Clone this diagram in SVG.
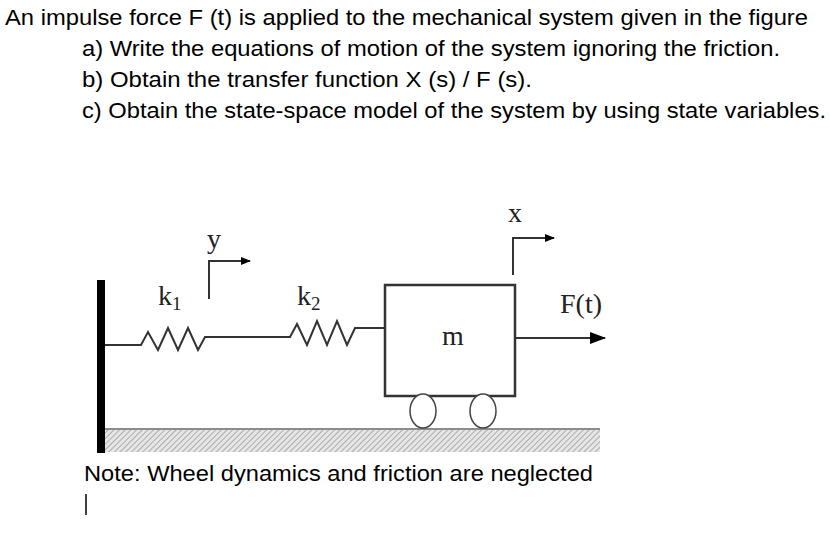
<svg xmlns="http://www.w3.org/2000/svg" width="830" height="551" viewBox="0 0 830 551">
<defs>
<pattern id="hatch" width="4" height="4" patternUnits="userSpaceOnUse" patternTransform="rotate(45)"><rect width="4" height="4" fill="#e6e6e6"/><line x1="0" y1="0" x2="0" y2="4" stroke="#999" stroke-width="1.5"/></pattern>
<marker id="ah" markerWidth="10" markerHeight="8" refX="9" refY="4" orient="auto" markerUnits="userSpaceOnUse"><path d="M0,0 L10,4 L0,8 z" fill="#000"/></marker>
<marker id="ab" markerWidth="16" markerHeight="12" refX="15" refY="6" orient="auto" markerUnits="userSpaceOnUse"><path d="M0,0 L16,6 L0,12 z" fill="#000"/></marker>
</defs>
<style>
.t{font-family:"Liberation Sans",Arial,sans-serif;font-size:22px;fill:#000}
.s{font-family:"Liberation Serif","Times New Roman",serif;font-size:28px;fill:#222}
.ln{stroke:#333;stroke-width:2;fill:none}
</style>
<text class="t" x="5" y="25" textLength="803" lengthAdjust="spacingAndGlyphs">An impulse force F (t) is applied to the mechanical system given in the figure</text>
<text class="t" x="82" y="56" textLength="698" lengthAdjust="spacingAndGlyphs">a) Write the equations of motion of the system ignoring the friction.</text>
<text class="t" x="82" y="87" textLength="450" lengthAdjust="spacingAndGlyphs">b) Obtain the transfer function X (s) / F (s).</text>
<text class="t" x="82" y="118" textLength="744" lengthAdjust="spacingAndGlyphs">c) Obtain the state-space model of the system by using state variables.</text>
<g id="ground"><rect x="105" y="430" width="495" height="22" fill="url(#hatch)"/><line x1="105" y1="429" x2="600" y2="429" stroke="#666" stroke-width="1.5"/></g>
<g id="wall"><rect x="97" y="280" width="8" height="173" fill="#000"/></g>
<g id="connectors">
<polyline class="ln" points="105,345 141,345 148,332 158,350 168,328 178,350 188,328 198,350 205,337 290,337 297,324 307,345 317,321 327,345 337,321 347,345 355,328 385,328"/>
<line class="ln" x1="515" y1="338" x2="605" y2="338" stroke-width="3" marker-end="url(#ab)"/>
<polyline class="ln" points="209,299 209,261 250,261" marker-end="url(#ah)"/>
<polyline class="ln" points="513,275 513,238 554,238" marker-end="url(#ah)"/>
</g>
<g id="mass"><rect x="385" y="285" width="130" height="111" fill="#fff" stroke="#333" stroke-width="2.5"/><text class="s" x="453" y="345" text-anchor="middle">m</text>
<ellipse cx="423" cy="411" rx="13" ry="17" fill="#fff" stroke="#444" stroke-width="1.5"/><ellipse cx="483" cy="411" rx="13" ry="17" fill="#fff" stroke="#444" stroke-width="1.5"/></g>
<g id="labels">
<text class="s" x="158" y="305">k<tspan font-size="19" dy="5">1</tspan></text>
<text class="s" x="297" y="305">k<tspan font-size="19" dy="5">2</tspan></text>
<text class="s" x="207" y="248">y</text>
<text class="s" x="508" y="222">x</text>
<text class="s" x="560" y="313">F(t)</text>
</g>
<text class="t" x="84" y="481" textLength="509" lengthAdjust="spacingAndGlyphs">Note: Wheel dynamics and friction are neglected</text>
<line x1="86" y1="494" x2="86" y2="515" stroke="#000" stroke-width="1.5"/>
</svg>
